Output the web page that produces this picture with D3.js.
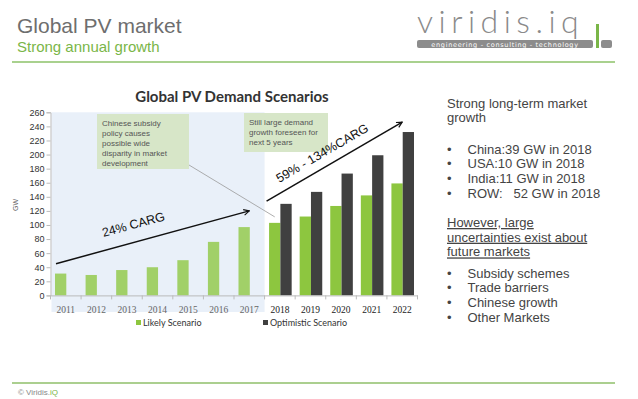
<!DOCTYPE html>
<html>
<head>
<meta charset="utf-8">
<script src="https://cdn.jsdelivr.net/npm/d3@7"></script>
<style>
  html, body { margin: 0; padding: 0; background: #fff; }
  svg { display: block; }
</style>
</head>
<body>
<div id="chart"></div>
<script>
// chart data
const years = ["2011","2012","2013","2014","2015","2016","2017","2018","2019","2020","2021","2022"];
const likely = [31, 29, 36, 40, 50, 76, 97, 103, 112, 127, 142, 159];
const optimistic = [null, null, null, null, null, null, null, 130, 147, 173, 199, 232];
const yTicks = [0,20,40,60,80,100,120,140,160,180,200,220,240,260];
const seriesNames = ["Likely Scenario", "Optimistic Scenario"];

const bulletsTop = ["China:39 GW in 2018", "USA:10 GW in 2018", "India:11 GW in 2018", "ROW:   52 GW in 2018"];
const bulletsBottom = ["Subsidy schemes", "Trade barriers", "Chinese growth", "Other Markets"];

const W = 638, H = 399;
const green = "#8dc63f", dark = "#404040", grey = "#666";

const svg = d3.select("#chart").append("svg").attr("width", W).attr("height", H);

// ---- slide header
svg.append("text").attr("x", 17).attr("y", 33)
  .style("font", "21px 'Liberation Sans', Arial, sans-serif").attr("fill", "#6e6e6e")
  .text("Global PV market");
svg.append("text").attr("x", 17).attr("y", 51.5)
  .style("font", "15px 'Liberation Sans', Arial, sans-serif").attr("fill", "#7ab648")
  .text("Strong annual growth");
svg.append("line").attr("x1", 12).attr("x2", 615).attr("y1", 62).attr("y2", 62)
  .attr("stroke", "#a9d18e").attr("stroke-width", 2);

// logo
const logo = svg.append("g");
logo.append("text").attr("x", 417).attr("y", 33)
  .style("font", "300 32px Lato, sans-serif").attr("letter-spacing", 5.5).attr("fill", "#8a8a8a")
  .text("viridis.iq");
logo.append("rect").attr("x", 596).attr("y", 24).attr("width", 3).attr("height", 24).attr("fill", "#7ab648");
logo.append("rect").attr("x", 417).attr("y", 40).attr("width", 176).attr("height", 8).attr("rx", 2).attr("fill", "#8c8c8c");
logo.append("rect").attr("x", 601).attr("y", 40).attr("width", 11).attr("height", 8).attr("rx", 2).attr("fill", "#8c8c8c");
logo.append("text").attr("x", 505).attr("y", 46.5).attr("text-anchor", "middle")
  .style("font", "6.5px 'DejaVu Sans', sans-serif").attr("letter-spacing", 0.7).attr("fill", "#fff")
  .text("engineering - consulting - technology");

// footer
svg.append("line").attr("x1", 12).attr("x2", 615).attr("y1", 383).attr("y2", 383)
  .attr("stroke", "#8fbf6a").attr("stroke-width", 1.5);
svg.append("text").attr("x", 18).attr("y", 395)
  .style("font", "8px 'Liberation Sans', Arial, sans-serif").attr("fill", "#888")
  .text("© Viridis.").append("tspan").attr("fill", "#7ab648").text("iQ");

// ---- chart
const plotL = 50.5, plotR = 417.5, plotT = 112.3, plotB = 295.4;

const x = d3.scaleBand().domain(years).range([plotL, plotR]);
const x1 = d3.scaleBand().domain(seriesNames).range([4.5, x.bandwidth() - 3.5]);
const y = d3.scaleLinear().domain([0, 260]).range([plotB, plotT]);

// title
svg.append("text").attr("x", 232).attr("y", 102).attr("text-anchor", "middle")
  .style("font", "bold 15px Lato, sans-serif").attr("fill", "#333")
  .text("Global PV Demand Scenarios");

// historic shading (2011-2017)
svg.append("rect")
  .attr("x", plotL + 1).attr("y", plotT)
  .attr("width", x("2018") - plotL - 1).attr("height", 312 - plotT)
  .attr("fill", "#e9f0f9");

// y axis
const yAxis = svg.append("g").attr("transform", `translate(${plotL},0)`)
  .call(d3.axisLeft(y).tickValues(yTicks).tickSize(4).tickPadding(2));
yAxis.select(".domain").attr("stroke", "#bbb");
yAxis.selectAll(".tick line").attr("stroke", "#bbb");
yAxis.selectAll(".tick text").style("font", "9px 'Liberation Sans', Arial, sans-serif").attr("fill", "#333");

svg.append("text")
  .attr("transform", "translate(18,205) rotate(-90)")
  .attr("text-anchor", "middle")
  .style("font", "7px 'Liberation Sans', Arial, sans-serif").attr("fill", grey)
  .text("GW");

// bars
const groups = svg.append("g").selectAll("g").data(years).join("g")
  .attr("transform", d => `translate(${x(d)},0)`);

groups.append("rect")
  .attr("x", x1(seriesNames[0])).attr("width", x1.bandwidth())
  .attr("y", (d, i) => y(likely[i]))
  .attr("height", (d, i) => y(0) - y(likely[i]))
  .attr("fill", green)
  .attr("fill-opacity", d => +d <= 2017 ? 0.78 : 1);

groups.filter((d, i) => optimistic[i] != null).append("rect")
  .attr("x", x1(seriesNames[1])).attr("width", x1.bandwidth())
  .attr("y", d => y(optimistic[years.indexOf(d)]))
  .attr("height", d => y(0) - y(optimistic[years.indexOf(d)]))
  .attr("fill", dark);

// x axis
const xAxis = svg.append("g").attr("transform", `translate(0,${plotB})`)
  .call(d3.axisBottom(x).tickSize(0).tickPadding(11));
xAxis.select(".domain").attr("stroke", "#bbb");
xAxis.selectAll(".tick text")
  .style("font", "9.5px 'Liberation Serif', serif")
  .attr("fill", d => +d <= 2017 ? "#666" : "#222");
svg.append("g").selectAll("line").data(years.concat(["end"])).join("line")
  .attr("x1", d => d === "end" ? plotR : x(d)).attr("x2", d => d === "end" ? plotR : x(d))
  .attr("y1", plotB).attr("y2", plotB + 4)
  .attr("stroke", "#bbb");

// legend
const legend = svg.append("g").selectAll("g").data(seriesNames).join("g")
  .attr("transform", (d, i) => `translate(${i === 0 ? 136 : 263},320)`);
legend.append("rect").attr("width", 5).attr("height", 5).attr("fill", (d, i) => i === 0 ? green : dark);
legend.append("text").attr("x", 7).attr("y", 5.5)
  .style("font", "9px Lato, sans-serif").attr("fill", "#333")
  .text(d => d);

// annotation boxes
function noteBox(bx, by, bw, bh, lines) {
  svg.append("rect").attr("x", bx).attr("y", by).attr("width", bw).attr("height", bh).attr("fill", "#d7e6c8");
  svg.append("text").attr("x", bx + 5).attr("y", by + 11.5)
    .style("font", "8px 'Liberation Sans', Arial, sans-serif").attr("fill", "#555")
    .selectAll("tspan").data(lines).join("tspan")
    .attr("x", bx + 5).attr("dy", (d, i) => i === 0 ? 0 : 10)
    .text(d => d);
}
noteBox(97, 114, 92, 55, ["Chinese subsidy", "policy causes", "possible wide", "disparity in market", "development"]);
noteBox(244, 113, 84, 39, ["Still large demand", "growth  foreseen for", "next 5 years"]);

svg.append("line")
  .attr("x1", 189).attr("y1", 165)
  .attr("x2", x("2018") + x1(seriesNames[0]) + x1.bandwidth() / 2)
  .attr("y2", y(likely[7]) - 6)
  .attr("stroke", "#999").attr("stroke-width", 0.8);

// arrows
const defs = svg.append("defs");
defs.append("marker").attr("id", "head").attr("viewBox", "0 0 10 10")
  .attr("refX", 9).attr("refY", 5).attr("markerWidth", 7).attr("markerHeight", 7)
  .attr("orient", "auto").attr("markerUnits", "userSpaceOnUse")
  .append("path").attr("d", "M1,1 L9,5 L1,9").attr("fill", "none").attr("stroke", "#111").attr("stroke-width", 1.6);

function trendArrow(x0, v0, xEnd, v1, label, off) {
  const p0 = [x0, y(v0)], p1 = [xEnd, y(v1)];
  svg.append("line")
    .attr("x1", p0[0]).attr("y1", p0[1]).attr("x2", p1[0]).attr("y2", p1[1])
    .attr("stroke", "#111").attr("stroke-width", 1.5)
    .attr("marker-end", "url(#head)");
  const ang = Math.atan2(p1[1] - p0[1], p1[0] - p0[0]) * 180 / Math.PI;
  const mx = (p0[0] + p1[0]) / 2, my = (p0[1] + p1[1]) / 2;
  svg.append("text")
    .attr("transform", `translate(${mx + off[0]},${my + off[1]}) rotate(${ang})`)
    .attr("text-anchor", "middle").attr("dy", -8)
    .style("font", "12.5px 'Liberation Sans', Arial, sans-serif").attr("fill", "#111")
    .text(label);
}
trendArrow(x("2011") + 5.5, 45, x("2017") + x.bandwidth() / 2, 120, "24% CARG", [-16, -1]);
trendArrow(x("2018") + 2, 134, x("2022") + x.bandwidth() / 2, 246, "59% - 134%CARG", [-6, 2]);

// ---- right hand text
const side = svg.append("g").style("font", "13px 'Liberation Sans', Arial, sans-serif").attr("fill", "#444");
side.append("text").attr("x", 447).attr("y", 108).text("Strong long-term market");
side.append("text").attr("x", 447).attr("y", 122).text("growth");

side.selectAll(".b1").data(bulletsTop).join("g").attr("class", "b1")
  .each(function(d, i) {
    const g = d3.select(this);
    const yy = 153.5 + i * 14.7;
    g.append("text").attr("x", 447).attr("y", yy).text("•");
    g.append("text").attr("x", 467.5).attr("y", yy).attr("xml:space", "preserve").text(d);
  });

["However, large", "uncertainties exist about", "future markets"].forEach((t, i) => {
  side.append("text").attr("x", 447).attr("y", 227 + i * 14.7)
    .attr("text-decoration", "underline").text(t);
});

side.selectAll(".b2").data(bulletsBottom).join("g").attr("class", "b2")
  .each(function(d, i) {
    const g = d3.select(this);
    const yy = 277.5 + i * 14.7;
    g.append("text").attr("x", 447).attr("y", yy).text("•");
    g.append("text").attr("x", 467.5).attr("y", yy).text(d);
  });
</script>
</body>
</html>
